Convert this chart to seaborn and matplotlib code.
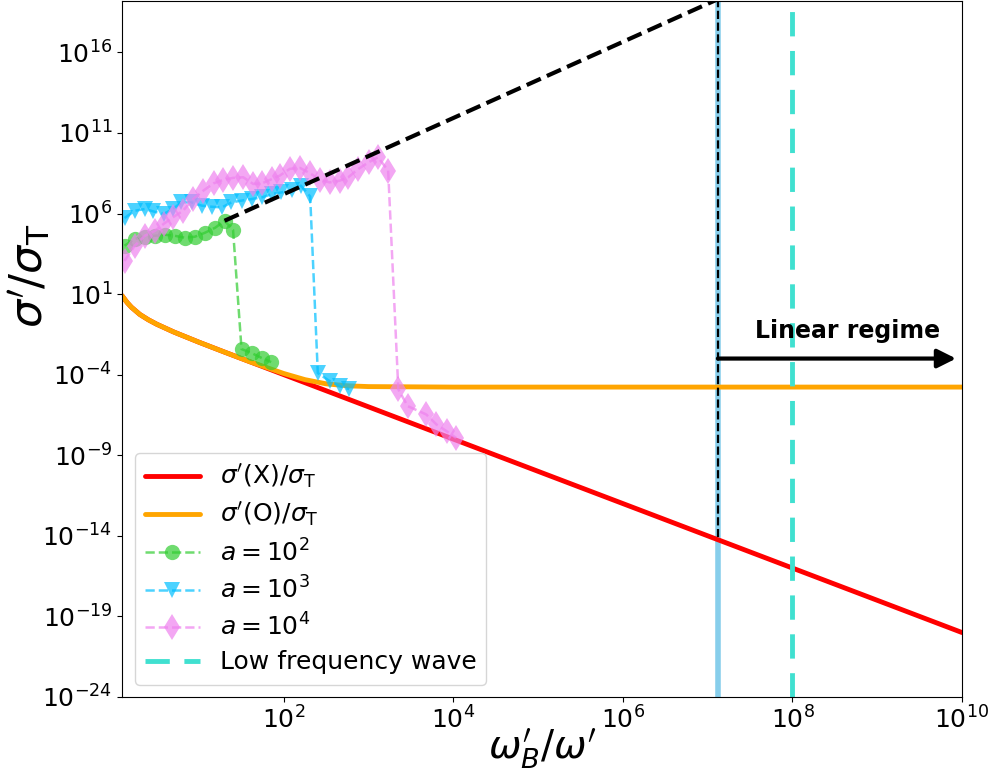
import numpy as np
import seaborn as sns
import matplotlib.pyplot as plt
from matplotlib.ticker import NullLocator

# all values, given in decades (log10)
# analytic cross sections: X mode and O mode
x_curve = [0.09, 0.15, 0.2, 0.3, 0.4, 0.5, 0.7, 1.0, 1.3, 1.6, 2.0, 2.25, 2.5, 2.75, 3.0, 4.0, 6.0, 8.0, 10.0]
y_xmode = [0.9, 0.48, 0.19, -0.26, -0.59, -0.87, -1.35, -1.99, -2.6, -3.2, -4.0, -4.5, -5.0, -5.5, -6.0, -8.0, -12.0, -16.0, -20.0]
y_omode = [0.9, 0.48, 0.19, -0.26, -0.59, -0.87, -1.35, -1.99, -2.6, -3.2, -3.93, -4.31, -4.57, -4.69, -4.74, -4.77, -4.77, -4.77, -4.77]

# simulations, a = 10^2
x_a2 = [0.12, 0.24, 0.36, 0.48, 0.6, 0.71, 0.83, 0.95, 1.07, 1.19, 1.3, 1.4, 1.5, 1.62, 1.74, 1.85]
y_a2 = [4.0, 4.43, 4.56, 4.62, 4.68, 4.62, 4.5, 4.56, 4.81, 5.12, 5.55, 4.99, -2.41, -2.66, -2.97, -3.22]

# simulations, a = 10^3
x_a3 = [0.12, 0.24, 0.36, 0.46, 0.58, 0.69, 0.79, 0.91, 1.03, 1.15, 1.27, 1.38, 1.5, 1.62, 1.74,
        1.86, 1.97, 2.09, 2.2, 2.31, 2.4, 2.54, 2.66, 2.77]
y_a3 = [5.72, 6.17, 6.28, 6.13, 5.97, 6.28, 6.69, 6.69, 6.49, 6.42, 6.38, 6.69, 6.8, 6.9, 7.0,
        7.21, 7.31, 7.46, 7.73, 7.06, -3.9, -4.4, -4.71, -4.9]

# simulations, a = 10^4
x_a4 = [0.12, 0.24, 0.36, 0.48, 0.58, 0.69, 0.81, 0.93, 1.05, 1.17, 1.28, 1.4, 1.52, 1.64, 1.74,
        1.86, 1.95, 2.07, 2.19, 2.31, 2.43, 2.54, 2.66, 2.76, 2.88, 3.0, 3.11, 3.23,
        3.35, 3.46, 3.68, 3.8, 3.92, 4.03]
y_a4 = [3.06, 4.0, 4.62, 4.93, 5.35, 5.76, 6.17, 6.9, 7.42, 7.87, 8.08, 8.21, 8.25, 7.83, 7.87,
        8.14, 8.35, 8.77, 8.83, 8.49, 8.08, 7.93, 8.04, 8.25, 8.77, 9.18, 9.49, 8.66,
        -4.91, -5.95, -6.47, -7.09, -7.51, -7.92]

# boundary (black dashed): diagonal, then drop down to the X-mode curve
x_diag = [1.3, 7.12]
y_diag = [5.55, 19.3]
x_drop = [7.12, 7.12]
y_drop = [19.3, -14.1]
x_cut = 7.12          # solid light-blue line
x_lowfreq = 8.0       # low frequency wave
x_arrow = [7.12, 9.93]
y_arrow = -3.0

x_ticks = [2, 4, 6, 8, 10]
y_ticks = [-24, -19, -14, -9, -4, 1, 6, 11, 16]
x_lim = (0.09, 10.0)
y_lim = (-24.0, 19.2)

text_dct = {'xlabel': 28, 'ylabel': 32, 'tick': 18, 'legend': 18, 'note': 17}


def dex(v):
    return 10.0 ** np.asarray(v, dtype=float)


sns.set_style("ticks")
plt.rcParams['font.family'] = ['DejaVu Sans']
plt.rcParams['text.color'] = 'black'
plt.rcParams['axes.labelcolor'] = 'black'
plt.rcParams['xtick.color'] = 'black'
plt.rcParams['ytick.color'] = 'black'
plt.rcParams['axes.edgecolor'] = 'black'

fig = plt.figure(figsize=(9.89, 7.72), dpi=100)
ax = fig.add_axes([122 / 989, 1 - 697 / 772, 840 / 989, 697 / 772 - 0.001])
ax.set_xscale('log')
ax.set_yscale('log')

ax.axvline(10 ** x_cut, color='skyblue', lw=4, zorder=1)

sns.lineplot(x=dex(x_curve), y=dex(y_xmode), color='red', lw=3.5,
             label=r"$\sigma'(\mathrm{X})/\sigma_\mathrm{T}$",
             sort=False, estimator=None, ax=ax)
sns.lineplot(x=dex(x_curve), y=dex(y_omode), color='orange', lw=3.5,
             label=r"$\sigma'(\mathrm{O})/\sigma_\mathrm{T}$",
             sort=False, estimator=None, ax=ax)

series = [(x_a2, y_a2, 'o', 11, 'limegreen', r'$a=10^2$'),
          (x_a3, y_a3, 'v', 11, 'deepskyblue', r'$a=10^3$'),
          (x_a4, y_a4, 'd', 13, 'violet', r'$a=10^4$')]
for xs, ys, mk, ms, clr, lab in series:
    sns.lineplot(x=dex(xs), y=dex(ys), color=clr, lw=1.8, linestyle='--',
                 marker=mk, markersize=ms, markeredgewidth=0, alpha=0.7,
                 label=lab, sort=False, estimator=None, ax=ax)

sns.lineplot(x=dex(x_diag), y=dex(y_diag), color='black', lw=3, linestyle='--',
             sort=False, estimator=None, ax=ax, legend=False)
sns.lineplot(x=dex(x_drop), y=dex(y_drop), color='black', lw=1.6, linestyle='--',
             sort=False, estimator=None, ax=ax, legend=False)

ax.axvline(10 ** x_lowfreq, color='turquoise', lw=3.5, linestyle=(0, (5, 3)),
           label='Low frequency wave')

# linear regime arrow
ax.annotate('', xy=(10 ** x_arrow[1], 10 ** y_arrow), xytext=(10 ** x_arrow[0], 10 ** y_arrow),
            arrowprops=dict(arrowstyle='-|>', color='black', lw=3, mutation_scale=28,
                            shrinkA=0, shrinkB=0))
ax.text(10 ** 8.65, 10 ** -1.3, 'Linear regime', fontsize=text_dct['note'],
        fontweight='bold', ha='center', va='center')

ax.set_xlim(dex(x_lim))
ax.set_ylim(dex(y_lim))
ax.set_xticks(dex(x_ticks))
ax.set_yticks(dex(y_ticks))
ax.xaxis.set_minor_locator(NullLocator())
ax.yaxis.set_minor_locator(NullLocator())
ax.tick_params(axis='both', which='major', labelsize=text_dct['tick'])

ax.set_xlabel(r"$\omega_B'/\omega'$", fontsize=text_dct['xlabel'])
ax.set_ylabel(r"$\sigma'/\sigma_\mathrm{T}$", fontsize=text_dct['ylabel'])
ax.xaxis.set_label_coords(0.5, -0.042)
ax.yaxis.set_label_coords(-0.083, 0.605)

ax.legend(loc='lower left', fontsize=text_dct['legend'], handlelength=2.2, labelspacing=0.4)

fig.savefig('out.png', dpi=100)
